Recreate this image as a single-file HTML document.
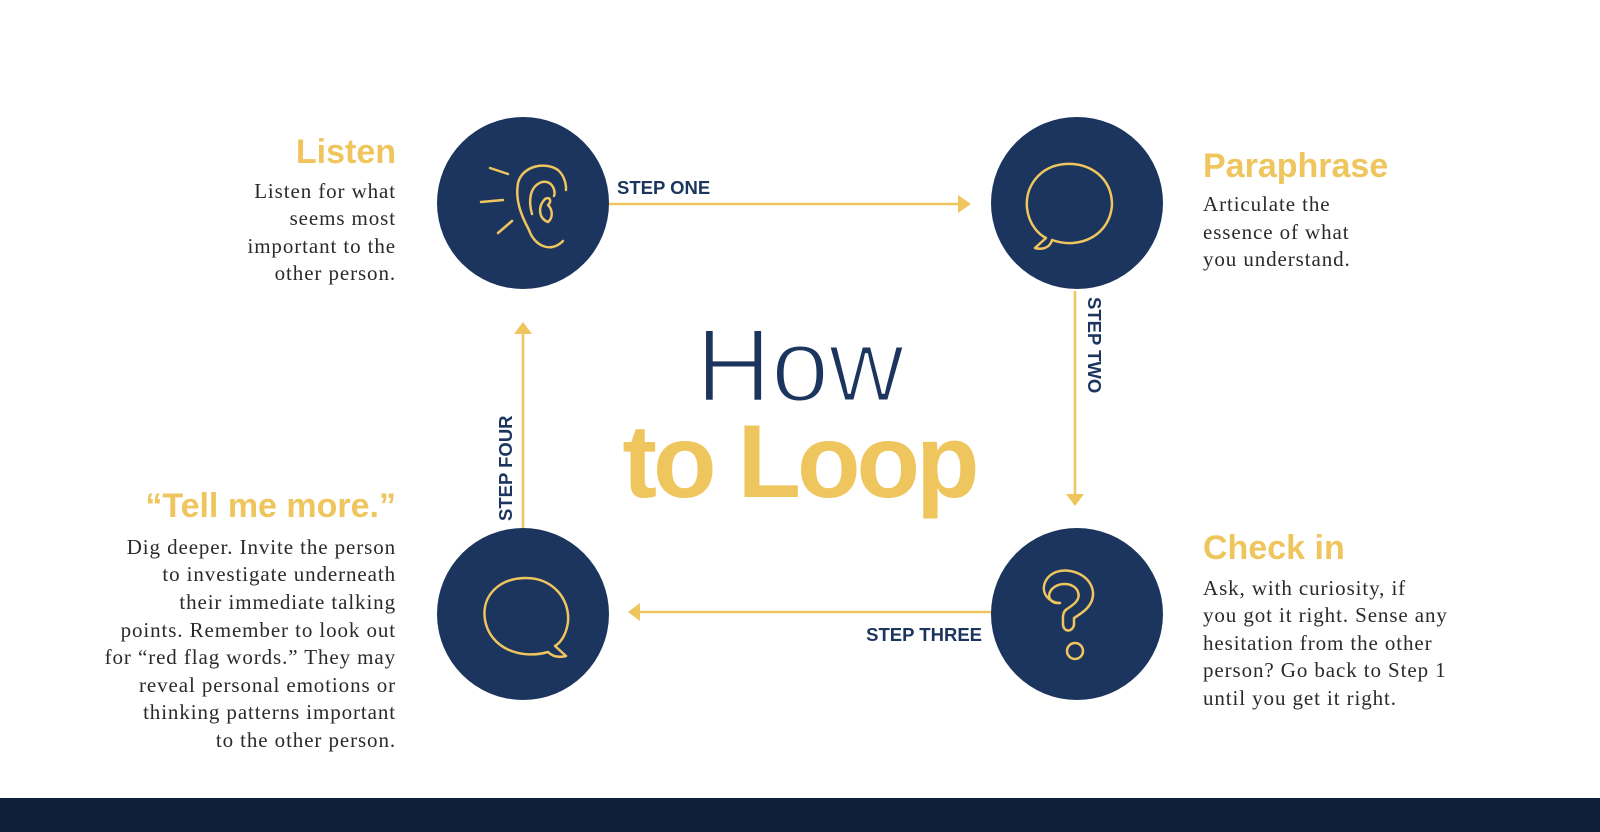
<!DOCTYPE html>
<html><head><meta charset="utf-8"><style>
html,body{margin:0;padding:0;background:#fff;}
svg{display:block}
.t{font-family:"Liberation Sans",sans-serif;font-weight:bold;fill:#efc55e;font-size:34px}
.b{font-family:"Liberation Serif",serif;fill:#2a2a2a;font-size:21px;letter-spacing:0.9px}
.s{font-family:"Liberation Sans",sans-serif;font-weight:bold;fill:#1b355f;font-size:18.5px}
</style></head><body>
<svg width="1600" height="832" viewBox="0 0 1600 832" xmlns="http://www.w3.org/2000/svg">
<rect x="0" y="798" width="1600" height="34" fill="#0e1e3b"/>
<g stroke="#efc55e" stroke-width="2.5" fill="none">
<line x1="609" y1="204" x2="960" y2="204"/>
<line x1="1075" y1="291" x2="1075" y2="496"/>
<line x1="638" y1="612" x2="992" y2="612"/>
<line x1="523" y1="332" x2="523" y2="529"/>
</g>
<g fill="#efc55e">
<polygon points="958,195 971,204 958,213"/>
<polygon points="1066,494 1084,494 1075,506"/>
<polygon points="640,603 628,612 640,621"/>
<polygon points="514,334 532,334 523,322"/>
</g>
<g fill="#1b355f">
<circle cx="523" cy="203" r="86"/>
<circle cx="1077" cy="203" r="86"/>
<circle cx="523" cy="614" r="86"/>
<circle cx="1077" cy="614" r="86"/>
</g>
<g stroke="#efc55e" stroke-width="2.5" fill="none" stroke-linecap="round" stroke-linejoin="round">
<line x1="490" y1="168" x2="508" y2="174"/>
<line x1="481" y1="202" x2="503" y2="200"/>
<line x1="498" y1="233" x2="512" y2="221"/>
<path d="M529 230 C521 215 515 200 518 183 C522 166 545 161 558 170 C567 178 566 190 566 190"/>
<path d="M529 230 C534 245 550 254 563 241"/>
<path d="M532 214 C528 200 530 186 542 182 C553 180 556 192 554 196"/>
<path d="M548 222 C538 218 538 206 545 199 C550 196 552 201 548 205 C553 210 553 218 548 222"/>
<path d="M1052 240 C1080 250 1110 235 1112 205 C1112 178 1090 162 1065 164 C1040 166 1025 186 1027 208 C1029 226 1040 235 1046 238 L1035 248 C1042 250 1050 248 1052 240 Z"/>
<path d="M548 652 C520 660 490 648 485 620 C481 595 500 578 526 578 C552 578 570 598 568 622 C566 636 560 643 555 646 L566 656 C558 658 552 656 548 652 Z"/>
<path d="M1060 603 C1050 604 1046 596 1052 589 C1060 581 1075 583 1078 592 C1081 600 1073 605 1067 609 C1062 612 1063 618 1063 624 C1063 632 1072 633 1074 625 L1074 618 C1082 613 1094 606 1093 592 C1091 575 1070 567 1056 572 C1044 577 1040 590 1048 598 C1052 602 1057 603 1060 603 Z"/>
<circle cx="1075" cy="651" r="8"/>
</g>
<text class="s" x="617" y="194">STEP ONE</text>
<text class="s" x="982" y="641" text-anchor="end">STEP THREE</text>
<text class="s" transform="translate(1088,297) rotate(90)">STEP TWO</text>
<text class="s" transform="translate(512,521) rotate(-90)">STEP FOUR</text>
<text x="800" y="401" text-anchor="middle" font-family="Liberation Sans,sans-serif" font-size="104" fill="#1b355f" stroke="#fff" stroke-width="3" paint-order="normal">How</text>
<text x="799" y="497" text-anchor="middle" font-family="Liberation Sans,sans-serif" font-weight="bold" font-size="104" letter-spacing="-4" fill="#efc55e">to Loop</text>
<text class="t" x="396" y="163" text-anchor="end">Listen</text>
<g class="b" text-anchor="end">
<text x="396" y="198">Listen for what</text>
<text x="396" y="225">seems most</text>
<text x="396" y="253">important to the</text>
<text x="396" y="280">other person.</text>
</g>
<text class="t" x="1203" y="177">Paraphrase</text>
<g class="b">
<text x="1203" y="211">Articulate the</text>
<text x="1203" y="239">essence of what</text>
<text x="1203" y="266">you understand.</text>
</g>
<text class="t" x="1203" y="559">Check in</text>
<g class="b">
<text x="1203" y="595">Ask, with curiosity, if</text>
<text x="1203" y="622">you got it right. Sense any</text>
<text x="1203" y="650">hesitation from the other</text>
<text x="1203" y="677">person? Go back to Step 1</text>
<text x="1203" y="705">until you get it right.</text>
</g>
<text class="t" x="396" y="517" text-anchor="end">“Tell me more.”</text>
<g class="b" text-anchor="end">
<text x="396" y="554">Dig deeper. Invite the person</text>
<text x="396" y="581">to investigate underneath</text>
<text x="396" y="609">their immediate talking</text>
<text x="396" y="637">points. Remember to look out</text>
<text x="396" y="664">for “red flag words.” They may</text>
<text x="396" y="692">reveal personal emotions or</text>
<text x="396" y="719">thinking patterns important</text>
<text x="396" y="747">to the other person.</text>
</g>
</svg>
</body></html>
